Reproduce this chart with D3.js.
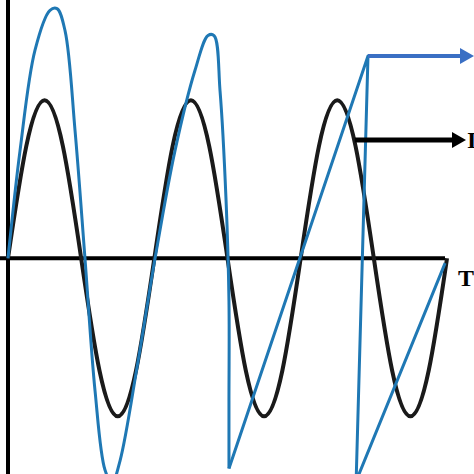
<!DOCTYPE html>
<html><head><meta charset="utf-8">
<script src="https://cdn.jsdelivr.net/npm/d3@7"></script>
<style>body{margin:0;background:#fff}svg{display:block}</style>
</head><body>
<div id="chart"></div>
<script>
// time in % of one period, values in % of the black amplitude
var blackT = [0,12.5,25,37.5,50,62.5,75,87.5,100,112.5,125,137.5,150,162.5,175,187.5,200,212.5,225,237.5,250,262.5,275,287.5,300];
var blackV = [0,71,100,71,0,-71,-100,-71,0,71,100,71,0,-71,-100,-71,0,71,100,71,0,-71,-100,-71,0];
var blueCurveT = [0,8.2,18.5,28.7,33.5,39,45.8,52.6,59.5,66.3,71.1,76.6,88.9,100.5,114.1,127.8,136.7,140.8,144.9,149,151,151,151];
var blueCurveV = [0,68,132,157,158,144,81,0,-84,-134,-142,-128,-65,0,68,119,141,141,106,37,-27,-90,-133];
var blueRampT = [151,246,237.9,298.7];
var blueRampV = [-133,128,-141,-3];
var labelT = "T", labelI = "I";

var W = 474, H = 474;
var svg = d3.select("#chart").append("svg").attr("width", W).attr("height", H);
var x = d3.scaleLinear().domain([0, 300]).range([8, 447]);
var y = d3.scaleLinear().domain([-136.5, 163.5]).range([474, 0]);

function pts(ts, vs) { return ts.map(function (t, i) { return [t, vs[i]]; }); }
function lineWith(curve) { return d3.line().x(d => x(d[0])).y(d => y(d[1])).curve(curve); }

// axes
svg.append("line").attr("x1", x(0)).attr("x2", x(0)).attr("y1", 0).attr("y2", H)
    .attr("stroke", "#000").attr("stroke-width", 4);
svg.append("line").attr("x1", 0).attr("x2", 445).attr("y1", y(0)).attr("y2", y(0))
    .attr("stroke", "#000").attr("stroke-width", 4);

// black sine
svg.append("path").datum(pts(blackT, blackV))
    .attr("d", lineWith(d3.curveNatural))
    .attr("fill", "none").attr("stroke", "#1a1a1a").attr("stroke-width", 4);

// blue distorted wave
svg.append("path").datum(pts(blueCurveT, blueCurveV))
    .attr("d", lineWith(d3.curveCatmullRom))
    .attr("fill", "none").attr("stroke", "#1f78b4").attr("stroke-width", 3);
svg.append("path").datum(pts(blueRampT, blueRampV))
    .attr("d", lineWith(d3.curveLinear))
    .attr("fill", "none").attr("stroke", "#1f78b4").attr("stroke-width", 3)
    .attr("stroke-linejoin", "round");

// arrows
function arrow(x1, x2, yy, col, w) {
    svg.append("line").attr("x1", x1).attr("x2", x2 - 12).attr("y1", yy).attr("y2", yy)
        .attr("stroke", col).attr("stroke-width", w);
    svg.append("path").attr("d", "M" + (x2 - 14) + "," + (yy - 8) + "L" + x2 + "," + yy + "L" + (x2 - 14) + "," + (yy + 8) + "Z")
        .attr("fill", col);
}
arrow(x(246), 474, y(128), "#3a6fc4", 4);
arrow(x(237), 466, 140, "#000", 5);

svg.append("text").attr("x", 467).attr("y", 148).text(labelI)
    .attr("font-family", "Liberation Serif").attr("font-weight", "bold").attr("font-size", 24);
svg.append("text").attr("x", 458).attr("y", 286).text(labelT)
    .attr("font-family", "Liberation Serif").attr("font-weight", "bold").attr("font-size", 24);
</script>
</body></html>
